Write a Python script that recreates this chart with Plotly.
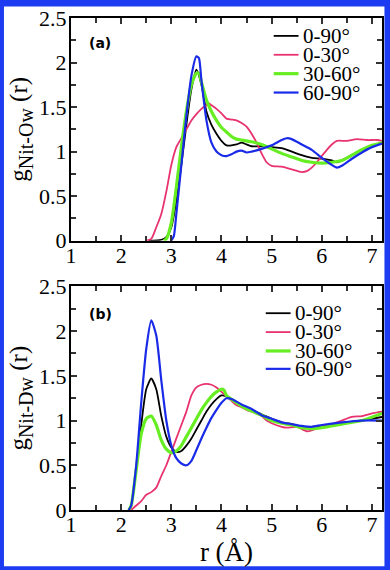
import plotly.graph_objects as go

labels = ["0-90°", "0-30°", "30-60°", "60-90°"]
colors = ["#000000", "#e8336e", "#66ee22", "#1a2be8"]
widths = [1.8, 1.8, 3.2, 2.2]

# Panel (a): g_Nit-Ow(r)
a_black_r = [2.55, 2.8, 2.9, 3.0, 3.1, 3.2, 3.3, 3.4, 3.5, 3.6, 3.7, 3.8, 3.9, 4.0, 4.1, 4.2, 4.3, 4.4, 4.5, 4.6, 4.8, 5.0, 5.2, 5.4, 5.6, 5.8, 6.0, 6.2, 6.3, 6.5, 6.7, 6.9, 7.1, 7.2]
a_black_g = [0.0, 0.01, 0.04, 0.15, 0.45, 0.85, 1.3, 1.7, 1.92, 1.75, 1.45, 1.3, 1.2, 1.12, 1.07, 1.07, 1.08, 1.1, 1.08, 1.06, 1.06, 1.05, 1.04, 1.0, 0.96, 0.93, 0.92, 0.9, 0.88, 0.93, 0.99, 1.04, 1.08, 1.1]

a_red_r = [2.5, 2.6, 2.7, 2.8, 2.9, 3.0, 3.1, 3.2, 3.3, 3.4, 3.5, 3.6, 3.7, 3.75, 3.8, 3.9, 4.0, 4.1, 4.2, 4.3, 4.4, 4.5, 4.6, 4.7, 4.8, 4.9, 5.0, 5.2, 5.4, 5.6, 5.7, 5.8, 5.9, 6.0, 6.1, 6.2, 6.3, 6.5, 6.7, 6.9, 7.1, 7.2]
a_red_g = [0.0, 0.02, 0.15, 0.3, 0.55, 0.85, 1.05, 1.15, 1.25, 1.35, 1.42, 1.48, 1.52, 1.54, 1.52, 1.48, 1.43, 1.37, 1.36, 1.35, 1.32, 1.28, 1.2, 1.1, 0.98, 0.88, 0.84, 0.83, 0.8, 0.77, 0.78, 0.82, 0.88, 0.95, 1.02, 1.08, 1.12, 1.12, 1.14, 1.13, 1.13, 1.12]

a_green_r = [2.85, 2.9, 3.0, 3.1, 3.2, 3.3, 3.4, 3.5, 3.55, 3.6, 3.7, 3.8, 3.9, 4.0, 4.1, 4.2, 4.3, 4.4, 4.6, 4.8, 5.0, 5.2, 5.4, 5.6, 5.8, 6.0, 6.2, 6.4, 6.6, 6.8, 7.0, 7.2]
a_green_g = [0.0, 0.02, 0.2, 0.6, 1.05, 1.45, 1.75, 1.88, 1.88, 1.78, 1.58, 1.45, 1.35, 1.27, 1.22, 1.17, 1.14, 1.13, 1.11, 1.08, 1.03, 0.98, 0.94, 0.9, 0.88, 0.87, 0.88, 0.9, 0.96, 1.02, 1.07, 1.1]

a_blue_r = [3.0, 3.05, 3.1, 3.2, 3.3, 3.4, 3.5, 3.55, 3.6, 3.7, 3.8, 3.9, 4.0, 4.1, 4.2, 4.3, 4.4, 4.5, 4.6, 4.8, 5.0, 5.2, 5.3, 5.4, 5.6, 5.8, 6.0, 6.2, 6.3, 6.4, 6.6, 6.8, 7.0, 7.2]
a_blue_g = [0.0, 0.05, 0.3, 0.85, 1.4, 1.85, 2.07, 2.05, 1.8, 1.35, 1.1, 1.0, 0.96, 0.95, 0.97, 1.0, 1.01, 0.99, 1.0, 1.03, 1.07, 1.13, 1.15, 1.14, 1.08, 1.02, 0.93, 0.85, 0.82, 0.84, 0.92, 0.99, 1.05, 1.09]

# Panel (b): g_Nit-Dw(r)
b_black_r = [2.15, 2.2, 2.3, 2.4, 2.5, 2.6, 2.7, 2.8, 2.9, 3.0, 3.1, 3.2, 3.3, 3.4, 3.5, 3.6, 3.7, 3.8, 3.9, 4.0, 4.1, 4.3, 4.5, 4.8, 5.0, 5.2, 5.4, 5.6, 5.8, 6.0, 6.4, 6.8, 7.2]
b_black_g = [0.0, 0.05, 0.45, 0.95, 1.35, 1.47, 1.35, 1.05, 0.82, 0.7, 0.65, 0.66, 0.72, 0.8, 0.9, 1.0, 1.1, 1.18, 1.24, 1.28, 1.27, 1.2, 1.14, 1.07, 1.02, 0.98, 0.96, 0.93, 0.93, 0.94, 0.97, 1.0, 1.04]

b_red_r = [2.2, 2.3, 2.4, 2.5, 2.6, 2.7, 2.8, 2.9, 3.0, 3.1, 3.2, 3.3, 3.4, 3.5, 3.6, 3.7, 3.8, 3.9, 4.0, 4.1, 4.2, 4.3, 4.4, 4.5, 4.6, 4.8, 4.9, 5.0, 5.2, 5.3, 5.5, 5.7, 5.8, 6.0, 6.2, 6.4, 6.6, 6.8, 7.0, 7.2]
b_red_g = [0.0, 0.05, 0.1, 0.17, 0.2, 0.25, 0.38, 0.5, 0.65, 0.8, 0.95, 1.1, 1.28, 1.37, 1.4, 1.41, 1.4, 1.37, 1.32, 1.27, 1.22, 1.17, 1.15, 1.12, 1.1, 1.05, 1.0, 0.97, 0.93, 0.92, 0.93, 0.88, 0.89, 0.93, 0.96, 1.0, 1.04, 1.05, 1.08, 1.1]

b_green_r = [2.15, 2.2, 2.3, 2.4, 2.5, 2.6, 2.7, 2.8, 2.9, 3.0, 3.1, 3.2, 3.3, 3.4, 3.5, 3.6, 3.7, 3.8, 3.9, 4.0, 4.05, 4.1, 4.3, 4.5, 4.8, 5.0, 5.2, 5.4, 5.6, 5.8, 6.0, 6.4, 6.8, 7.2]
b_green_g = [0.0, 0.05, 0.45, 0.85, 1.02, 1.05, 0.95, 0.78, 0.68, 0.64, 0.66, 0.72, 0.82, 0.92, 1.02, 1.12, 1.2, 1.27, 1.32, 1.35, 1.34, 1.28, 1.2, 1.13, 1.06, 1.0, 0.97, 0.95, 0.92, 0.91, 0.92, 0.96, 1.0, 1.08]

b_blue_r = [2.15, 2.2, 2.3, 2.4, 2.5, 2.6, 2.7, 2.8, 2.9, 3.0, 3.1, 3.2, 3.3, 3.4, 3.5, 3.6, 3.7, 3.8, 3.9, 4.0, 4.1, 4.2, 4.4, 4.6, 4.8, 5.0, 5.2, 5.4, 5.6, 5.8, 6.0, 6.4, 6.8, 7.2]
b_blue_g = [0.0, 0.05, 0.5, 1.2, 1.8, 2.12, 1.95, 1.45, 1.0, 0.72, 0.58, 0.52, 0.5, 0.55, 0.67, 0.8, 0.92, 1.03, 1.12, 1.2, 1.25, 1.24, 1.18, 1.13, 1.06, 1.02, 0.98, 0.96, 0.94, 0.93, 0.95, 0.98, 1.0, 1.0]

x_ticks = [1, 2, 3, 4, 5, 6, 7]
y_ticks = [0, 0.5, 1, 1.5, 2, 2.5]
y_tick_text = ["0", "0.5", "1", "1.5", "2", "2.5"]

panel_a = [(a_black_r, a_black_g), (a_red_r, a_red_g), (a_green_r, a_green_g), (a_blue_r, a_blue_g)]
panel_b = [(b_black_r, b_black_g), (b_red_r, b_red_g), (b_green_r, b_green_g), (b_blue_r, b_blue_g)]

SERIF = "Liberation Serif"

fig = go.Figure()
for i, (r, g) in enumerate(panel_a):
    fig.add_trace(go.Scatter(x=r, y=g, mode="lines", name=labels[i], showlegend=False,
                             line=dict(color=colors[i], width=widths[i], shape="spline", smoothing=0.6),
                             xaxis="x", yaxis="y"))
for i, (r, g) in enumerate(panel_b):
    fig.add_trace(go.Scatter(x=r, y=g, mode="lines", name=labels[i], showlegend=False,
                             line=dict(color=colors[i], width=widths[i], shape="spline", smoothing=0.6),
                             xaxis="x2", yaxis="y2"))

W, H = 390, 570
ml, mr, mt, mb = 71, 6, 15, 60
pw, ph = W - ml - mr, H - mt - mb


def px_x(p):
    return (p - ml) / pw


def px_y(p):
    return (H - mb - p) / ph


tickfont = dict(family=SERIF, size=22, color="#000000")
common_x = dict(range=[1, 7.2], tickvals=x_ticks, ticks="inside", ticklen=6, tickwidth=1.5,
                tickcolor="#333", showline=True, linecolor="#000", linewidth=2, mirror="allticks",
                showgrid=False, zeroline=False, tickfont=tickfont, ticklabelstandoff=-6,
                minor=dict(dtick=0.5, tick0=1, ticks="inside", ticklen=5, tickcolor="#333"))
common_y = dict(range=[0, 2.5], tickvals=y_ticks, ticktext=y_tick_text, ticks="inside", ticklen=6,
                tickwidth=1.5, tickcolor="#333", showline=True, linecolor="#000", linewidth=2,
                mirror="allticks", showgrid=False, zeroline=False, tickfont=tickfont,
                ticklabelstandoff=-2,
                minor=dict(dtick=0.25, tick0=0, ticks="inside", ticklen=5, tickcolor="#333"))

dom_a = [px_y(239), 1.0]
dom_b = [0.0, px_y(285)]

titlefont = dict(family=SERIF, size=25, color="#000")
ytitle_a = "g<sub><span style='font-size:20px'>Nit-Ow</span></sub> (r)"
ytitle_b = "g<sub><span style='font-size:20px'>Nit-Dw</span></sub> (r)"

annotations = [
    dict(text="<b>(a)</b>", x=px_x(87), y=px_y(40), xref="paper", yref="paper", showarrow=False,
         xanchor="left", yanchor="middle", font=dict(family="DejaVu Sans", size=14, color="#000")),
    dict(text="<b>(b)</b>", x=px_x(87), y=px_y(313), xref="paper", yref="paper", showarrow=False,
         xanchor="left", yanchor="middle", font=dict(family="DejaVu Sans", size=14, color="#000")),
]
shapes = [dict(type="rect", xref="paper", yref="paper",
               x0=-ml / pw, x1=1 + mr / pw, y0=-mb / ph, y1=1 + mt / ph,
               line=dict(color="#1d3cf2", width=7), fillcolor="rgba(0,0,0,0)", layer="above")]

# hand-built legends (tight row spacing as in the reference)
legend_specs = [(275, 300, 303, [33, 52, 71, 90]), (267, 292, 295, [312, 331, 350, 368])]
for (lx0, lx1, tx, rows) in legend_specs:
    for i, yy in enumerate(rows):
        shapes.append(dict(type="line", xref="paper", yref="paper",
                           x0=px_x(lx0), x1=px_x(lx1), y0=px_y(yy), y1=px_y(yy),
                           line=dict(color=colors[i], width=widths[i])))
        annotations.append(dict(text=labels[i], x=px_x(tx), y=px_y(yy), xref="paper", yref="paper",
                                showarrow=False, xanchor="left", yanchor="middle",
                                height=18, borderpad=0, valign="middle",
                                font=dict(family=SERIF, size=21, color="#000")))

fig.update_layout(
    width=W, height=H,
    font=dict(family=SERIF, color="#000"),
    margin=dict(l=ml, r=mr, t=mt, b=mb),
    paper_bgcolor="#ffffff", plot_bgcolor="#ffffff",
    showlegend=False,
    xaxis=dict(common_x, anchor="y"),
    yaxis=dict(common_y, domain=dom_a, anchor="x",
               title=dict(text=ytitle_a, font=titlefont, standoff=4)),
    xaxis2=dict(common_x, anchor="y2",
                title=dict(text="r (Å)", font=dict(family=SERIF, size=27, color="#000"), standoff=0)),
    yaxis2=dict(common_y, domain=dom_b, anchor="x2",
                title=dict(text=ytitle_b, font=titlefont, standoff=4)),
    annotations=annotations,
    shapes=shapes,
)

fig.write_html("out.html", config={"displayModeBar": False},
               post_script="document.body.style.margin='0';document.body.style.overflow='hidden';")
